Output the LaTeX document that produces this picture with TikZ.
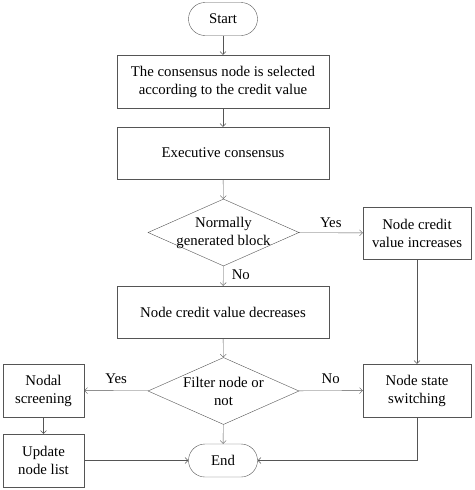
\documentclass[tikz,border=0pt]{standalone}
\usepackage{fontspec}
\setmainfont{Liberation Serif}
\usetikzlibrary{positioning, calc}
\usetikzlibrary{shapes.geometric, arrows.meta}
\definecolor{linegray}{RGB}{85,85,85}
\tikzset{
    process/.style = {draw=linegray, rectangle, align=center, inner sep=0},
    terminal/.style = {draw=linegray, rectangle, rounded corners=16.5pt, minimum width=69pt, minimum height=33pt, inner sep=0},
    decision/.style = {draw=linegray, diamond, minimum width=151pt, minimum height=67pt, inner sep=0},
    flow/.style = {draw=linegray, -{Straight Barb[length=3pt,width=6pt]}}
}
\newcommand{\procbox}[5] {
    \node[process, minimum width=#3, minimum height=#4] (#1) at (#2) {#5};
}

\begin{document}
\begin{tikzpicture}[x=1pt, y=-1pt, font=\fontsize{14.8}{18}\selectfont]
                \useasboundingbox (0,0) rectangle (474,490);
                \node[terminal] (start) at (223,19) {Start};
                \procbox{select}{223,81.5}{212pt}{53pt}{The consensus node is selected\\according to the credit value}
                \procbox{exec}{223,153}{212pt}{52pt}{Executive consensus}
                \node[decision, label={[align=center]center:Normally\\generated block}] (normal) at (223.5,232.5) {};
                \procbox{inc}{417,233}{108pt}{52pt}{Node credit\\value increases}
                \procbox{dec}{223,312}{212pt}{52pt}{Node credit value decreases}
                \node[decision, label={[align=center]center:Filter node or\\not}] (filter) at (223.5,391) {};
                \procbox{screen}{43.5,390.5}{81pt}{53pt}{Nodal\\screening}
                \procbox{switch}{417,390.5}{108pt}{53pt}{Node state\\switching}
                \procbox{update}{43.5,460.5}{81pt}{53pt}{Update\\node list}
                \node[terminal] (end) at (223,460.5) {End};
                % connectors
                \draw[flow] (start) -- (select);
                \draw[flow] (select) -- (exec);
                \draw[flow] (exec) -- (normal);
                \draw[flow] (normal) -- node[above, pos=0.5, yshift=2pt] {Yes} (inc);
                \draw[flow] (normal) -- node[right, pos=0.45, xshift=5pt] {No} (dec);
                \draw[flow] (dec) -- (filter);
                \draw[flow] (filter) -- node[above, yshift=4pt] {Yes} (screen);
                \draw[flow] (filter) -- node[above, yshift=4pt] {No} (switch);
                \draw[flow] (inc) -- (switch);
                \draw[flow] (screen) -- (update);
                \draw[flow] (filter) -- (end);
                \draw[flow] (update) -- (end);
                \draw[flow] (switch.south) |- (end.east);
            \end{tikzpicture}
\end{document}
